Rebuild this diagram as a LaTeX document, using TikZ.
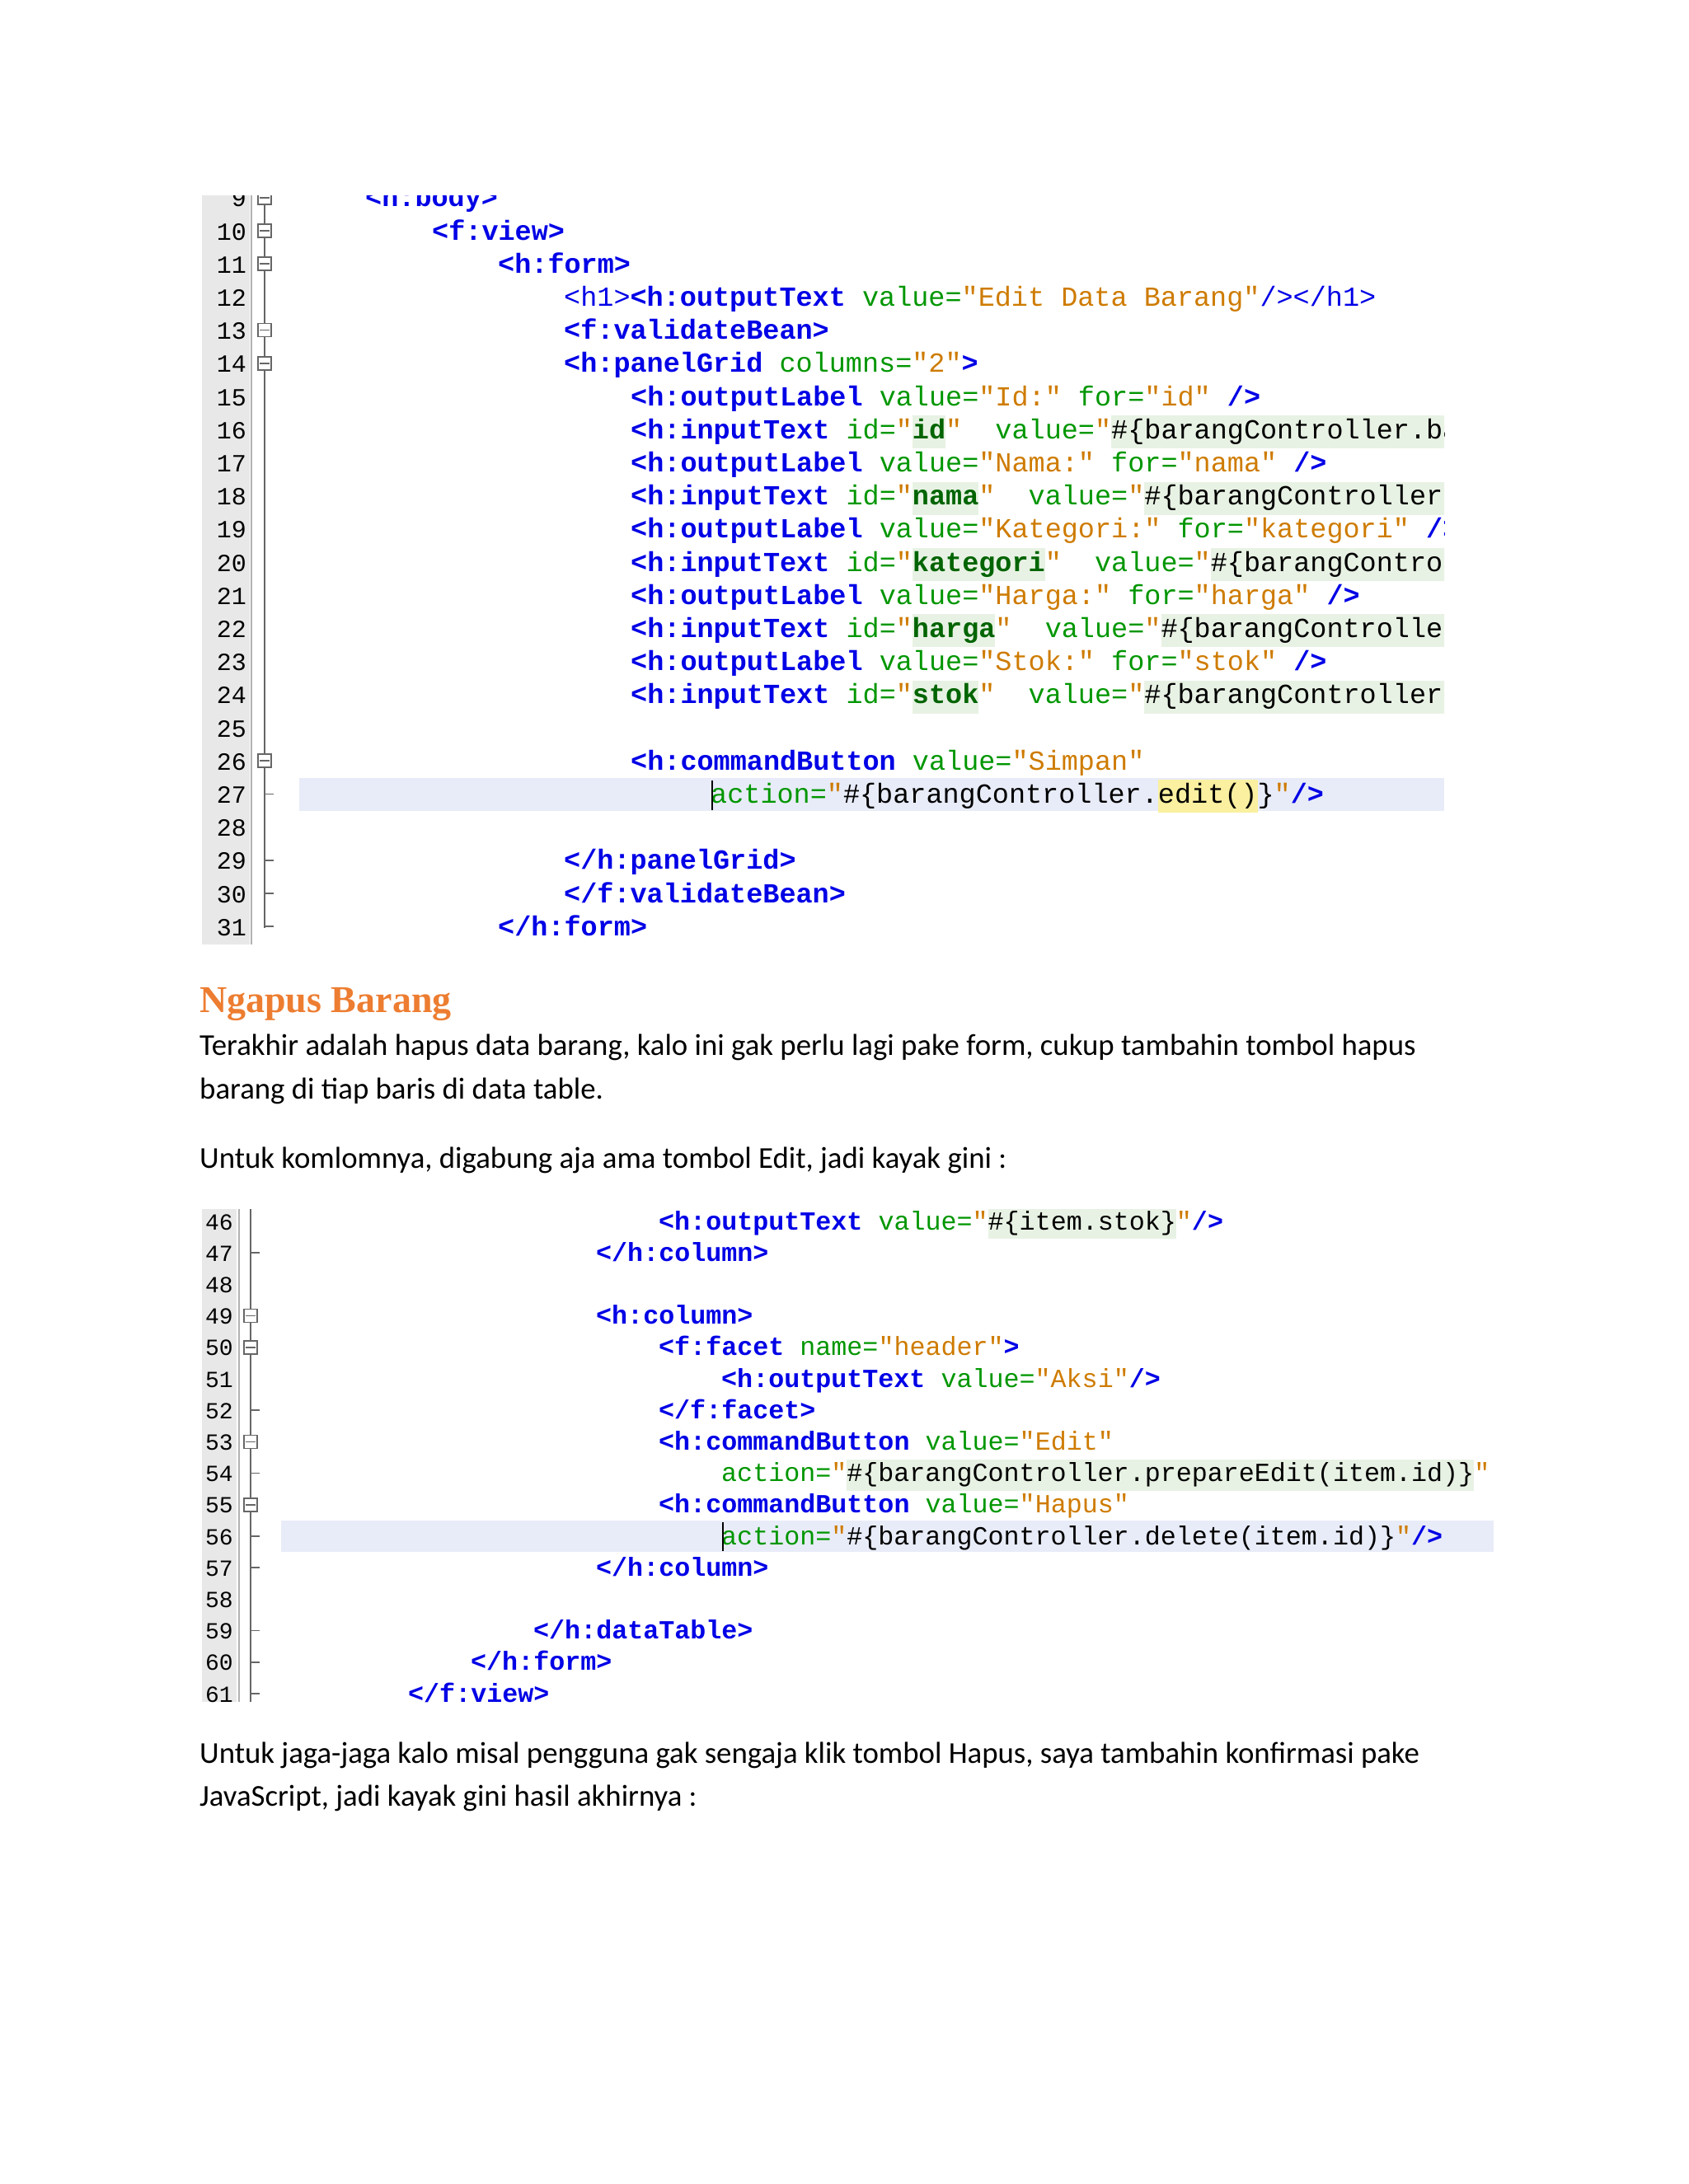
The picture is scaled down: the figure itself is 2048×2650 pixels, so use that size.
\documentclass[tikz,border=0pt]{standalone}
\usepackage{fontspec}
\setmainfont{Carlito}
\setmonofont{Liberation Mono}
\newfontfamily\headfont{Liberation Serif}
\definecolor{tagc}{RGB}{0,0,230}
\definecolor{attc}{RGB}{0,150,0}
\definecolor{valc}{RGB}{206,123,0}
\definecolor{elbg}{RGB}{232,242,228}
\definecolor{idc}{RGB}{0,100,0}
\definecolor{hlrow}{RGB}{232,236,248}
\definecolor{yel}{RGB}{250,240,160}
\definecolor{gut}{RGB}{232,232,232}
\definecolor{headc}{RGB}{237,125,49}
\newcommand\Tg[1]{\textcolor{tagc}{\bfseries #1}}
\newcommand\Tn[1]{\textcolor{tagc}{#1}}
\newcommand\At[1]{\textcolor{attc}{#1}}
\newcommand\Vl[1]{\textcolor{valc}{#1}}
\newcommand\El[1]{{\setlength\fboxsep{0pt}\colorbox{elbg}{\strut #1}}}
\newcommand\Iv[1]{{\setlength\fboxsep{0pt}\colorbox{elbg}{\strut\textcolor{idc}{\bfseries #1}}}}
\newcommand\Hy[1]{{\setlength\fboxsep{0pt}\colorbox{yel}{\strut #1}}}
\begin{document}
\begin{tikzpicture}[x=1pt,y=-1pt,
  ca/.style={anchor=base west,inner sep=0pt,font=\ttfamily\fontsize{33.5}{40}\selectfont},
  cb/.style={anchor=base west,inner sep=0pt,font=\ttfamily\fontsize{31.7}{38}\selectfont},
  na/.style={anchor=base east,inner sep=0pt,font=\ttfamily\fontsize{30}{36}\selectfont},
  fold/.style={draw=gray!80!black,fill=white,line width=1.5pt,minimum size=16pt,inner sep=0pt},
  body/.style={anchor=base west,inner sep=0pt,font=\fontsize{36.8}{44}\selectfont},
  ]
\useasboundingbox (0,0) rectangle (2048,2650);
% ---------- block 1
\begin{scope}
\clip (240,237) rectangle (1752,1146);
\fill[gut] (245,237) rectangle (303,1146);
\draw[gray!60,line width=1.5pt] (305,237) -- (305,1146);
\fill[hlrow] (363,944) rectangle (1752,984);
\draw[gray!80!black,line width=1.5pt] (321,237) -- (321,1126);
\foreach \n in {9,...,31}{
  \node[na] at (299,{280+(\n-10)*40.2+11}) {\n};
}
\foreach \n in {9,10,11,13,14,26}{
  \node[fold] at (321,{280+(\n-10)*40.2}) {};
  \draw[gray!80!black,line width=1.5pt] (315,{280+(\n-10)*40.2}) -- (327,{280+(\n-10)*40.2});
}
\foreach \n in {27,29,30,31}{
  \draw[gray!80!black,line width=1.5pt] (321,{280+(\n-10)*40.2}) -- (332,{280+(\n-10)*40.2});
}
\node[ca] (a9) at (443,{280-40.2+11}) {\Tg{<h:body>}};
\node[ca] (a10) at (524,291) {\Tg{<f:view>}};
\node[ca] (a11) at (604,331.2) {\Tg{<h:form>}};
\node[ca] (a12) at (684,371.4) {\Tn{<h1>}\Tg{<h:outputText} \At{value=}\Vl{"Edit Data Barang"}\Tn{/></h1>}};
\node[ca] (a13) at (684,411.6) {\Tg{<f:validateBean>}};
\node[ca] (a14) at (684,451.8) {\Tg{<h:panelGrid} \At{columns=}\Vl{"2"}\Tg{>}};
\node[ca] (a15) at (765,492) {\Tg{<h:outputLabel} \At{value=}\Vl{"Id:"} \At{for=}\Vl{"id"} \Tg{/>}};
\node[ca] (a16) at (765,532.2) {\Tg{<h:inputText} \At{id=}\Vl{"}\Iv{id}\Vl{"}\ \ \At{value=}\Vl{"}\El{\#\{barangController.barang.id\}}};
\node[ca] (a17) at (765,572.4) {\Tg{<h:outputLabel} \At{value=}\Vl{"Nama:"} \At{for=}\Vl{"nama"} \Tg{/>}};
\node[ca] (a18) at (765,612.6) {\Tg{<h:inputText} \At{id=}\Vl{"}\Iv{nama}\Vl{"}\ \ \At{value=}\Vl{"}\El{\#\{barangController.barang.nama\}}};
\node[ca] (a19) at (765,652.8) {\Tg{<h:outputLabel} \At{value=}\Vl{"Kategori:"} \At{for=}\Vl{"kategori"} \Tg{/>}};
\node[ca] (a20) at (765,693) {\Tg{<h:inputText} \At{id=}\Vl{"}\Iv{kategori}\Vl{"}\ \ \At{value=}\Vl{"}\El{\#\{barangController.barang\}}};
\node[ca] (a21) at (765,733.2) {\Tg{<h:outputLabel} \At{value=}\Vl{"Harga:"} \At{for=}\Vl{"harga"} \Tg{/>}};
\node[ca] (a22) at (765,773.4) {\Tg{<h:inputText} \At{id=}\Vl{"}\Iv{harga}\Vl{"}\ \ \At{value=}\Vl{"}\El{\#\{barangController.barang\}}};
\node[ca] (a23) at (765,813.6) {\Tg{<h:outputLabel} \At{value=}\Vl{"Stok:"} \At{for=}\Vl{"stok"} \Tg{/>}};
\node[ca] (a24) at (765,853.8) {\Tg{<h:inputText} \At{id=}\Vl{"}\Iv{stok}\Vl{"}\ \ \At{value=}\Vl{"}\El{\#\{barangController.barang.stok\}}};
\node[ca] (a26) at (765,934.2) {\Tg{<h:commandButton} \At{value=}\Vl{"Simpan"}};
\node[ca] (a27) at (862,974.4) {\At{action=}\Vl{"}\#\{barangController.\Hy{edit()}\}\Vl{"}\Tg{/>}};
\draw[black,line width=2pt] (864,947) -- (864,983);
\node[ca] (a29) at (684,1054.8) {\Tg{</h:panelGrid>}};
\node[ca] (a30) at (684,1095) {\Tg{</f:validateBean>}};
\node[ca] (a31) at (604,1135.2) {\Tg{</h:form>}};
\end{scope}
% ---------- text
\node[anchor=base west,inner sep=0pt,font=\headfont\bfseries\fontsize{46}{52}\selectfont,text=headc] (h) at (242,1228) {Ngapus Barang};
\node[body] (t1) at (242,1280) {Terakhir adalah hapus data barang, kalo ini gak perlu lagi pake form, cukup tambahin tombol hapus};
\node[body] (t2) at (242,1333) {barang di tiap baris di data table.};
\node[body] (t3) at (242,1417) {Untuk komlomnya, digabung aja ama tombol Edit, jadi kayak gini :};
\node[body] (t4) at (242,2139) {Untuk jaga-jaga kalo misal pengguna gak sengaja klik tombol Hapus, saya tambahin konfirmasi pake};
\node[body] (t5) at (242,2191) {JavaScript, jadi kayak gini hasil akhirnya :};
% ---------- block 2
\begin{scope}
\clip (240,1467) rectangle (1830,2065);
\fill[gut] (245,1467) rectangle (287,2065);
\draw[gray!60,line width=1.5pt] (290,1467) -- (290,2065);
\fill[hlrow] (341,1845) rectangle (1812,1883);
\draw[gray!80!black,line width=1.5pt] (304,1467) -- (304,2065);
\foreach \n in {46,...,61}{
  \node[na,font=\ttfamily\fontsize{28}{34}\selectfont] at (283,{1482+(\n-46)*38.2+10}) {\n};
}
\foreach \n in {49,50,53,55}{
  \node[fold] at (304,{1482+(\n-46)*38.2}) {};
  \draw[gray!80!black,line width=1.5pt] (298,{1482+(\n-46)*38.2}) -- (310,{1482+(\n-46)*38.2});
}
\foreach \n in {47,52,54,56,57,59,60,61}{
  \draw[gray!80!black,line width=1.5pt] (304,{1482+(\n-46)*38.2}) -- (315,{1482+(\n-46)*38.2});
}
\node[cb] (b46) at (799,1492) {\Tg{<h:outputText} \At{value=}\Vl{"}\El{\#\{item.stok\}}\Vl{"}\Tg{/>}};
\node[cb] (b47) at (723,1530.2) {\Tg{</h:column>}};
\node[cb] (b49) at (723,1606.6) {\Tg{<h:column>}};
\node[cb] (b50) at (799,1644.8) {\Tg{<f:facet} \At{name=}\Vl{"header"}\Tg{>}};
\node[cb] (b51) at (875,1683) {\Tg{<h:outputText} \At{value=}\Vl{"Aksi"}\Tg{/>}};
\node[cb] (b52) at (799,1721.2) {\Tg{</f:facet>}};
\node[cb] (b53) at (799,1759.4) {\Tg{<h:commandButton} \At{value=}\Vl{"Edit"}};
\node[cb] (b54) at (875,1797.6) {\At{action=}\Vl{"}\El{\#\{barangController.prepareEdit(item.id)\}}\Vl{"}};
\node[cb] (b55) at (799,1835.8) {\Tg{<h:commandButton} \At{value=}\Vl{"Hapus"}};
\node[cb] (b56) at (875,1874) {\At{action=}\Vl{"}\#\{barangController.delete(item.id)\}\Vl{"}\Tg{/>}};
\draw[black,line width=2pt] (877,1847) -- (877,1882);
\node[cb] (b57) at (723,1912.2) {\Tg{</h:column>}};
\node[cb] (b59) at (647,1988.6) {\Tg{</h:dataTable>}};
\node[cb] (b60) at (571,2026.8) {\Tg{</h:form>}};
\node[cb] (b61) at (495,2065) {\Tg{</f:view>}};
\end{scope}
\end{tikzpicture}
\end{document}
